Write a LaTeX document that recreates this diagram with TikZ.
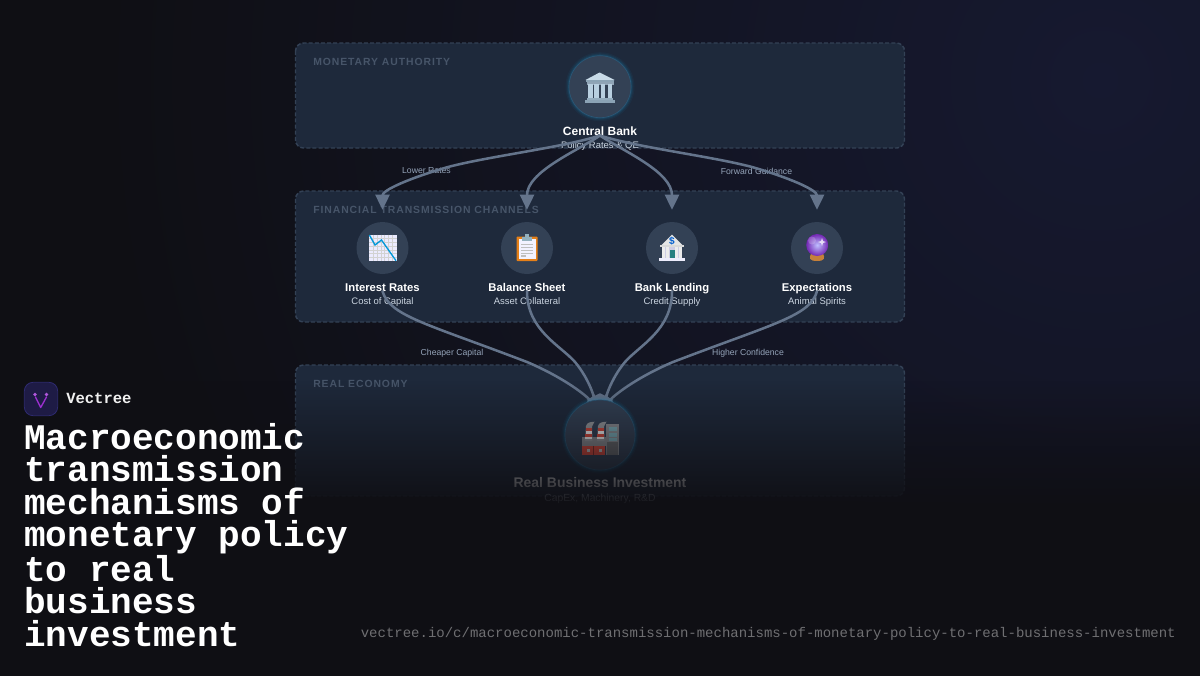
\documentclass[tikz,border=0pt]{standalone}
\usepackage{fontspec}
\setmainfont{Liberation Sans}
\newfontfamily\monof{Liberation Mono}
\newfontfamily\secf[LetterSpace=9]{Liberation Sans}
\usetikzlibrary{arrows.meta,fadings,shapes.geometric}
\definecolor{bgc}{HTML}{0F0F14}
\definecolor{bgglow}{HTML}{161930}
\definecolor{lanec}{HTML}{1E293B}
\definecolor{laned}{HTML}{334155}
\definecolor{circ}{HTML}{334155}
\definecolor{edgec}{HTML}{64748B}
\definecolor{edgel}{HTML}{94A3B8}
\definecolor{secc}{HTML}{475569}
\definecolor{subc}{HTML}{CBD5E1}
\definecolor{glow}{HTML}{0EA5E9}
\definecolor{logofill}{HTML}{1E1B45}
\definecolor{logoline}{HTML}{2E2A70}
\definecolor{logov}{HTML}{9B2FD0}
\definecolor{roofc}{HTML}{C9DBE8}
\definecolor{colc}{HTML}{B8CFE0}
\definecolor{basec}{HTML}{8BA3B5}
\definecolor{facred}{HTML}{E04A3C}
\definecolor{facgray}{HTML}{8E9196}
\definecolor{facwin}{HTML}{7FB4BE}
\tikzfading[name=fadedown, top color=transparent!100, bottom color=transparent!0]
\tikzset{
  x=0.75pt,y=-0.75pt,
  lane/.style={fill=lanec,draw=laned,line width=1.1pt,dash pattern=on 3pt off 1.6pt,rounded corners=6pt},
  seclab/.style={anchor=base west,inner sep=0pt,text=secc,font=\secf\bfseries\fontsize{7.8}{9}\selectfont},
  icon/.style={circle,fill=circ,minimum size=39pt,inner sep=0pt},
  bigicon/.style={circle,fill=circ,minimum size=46.5pt,inner sep=0pt},
  huge/.style={circle,fill=circ,minimum size=52.5pt,inner sep=0pt},
  nm/.style={anchor=base,inner sep=0pt,text=white,text depth=0pt,font=\bfseries\fontsize{8.45}{10}\selectfont},
  sub/.style={anchor=base,inner sep=0pt,text=subc,font=\fontsize{7.1}{9}\selectfont},
  elab/.style={inner sep=0pt,text=edgel,font=\fontsize{6.5}{8}\selectfont},
  conn/.style={draw=edgec,line width=1.9pt,-{Triangle[length=11.25pt,width=10.5pt]},line cap=round},
  connb/.style={conn},
}
\begin{document}
\begin{tikzpicture}
\useasboundingbox (0,0) rectangle (1200,675);
\fill[bgc] (-5,-5) rectangle (1205,680);
\begin{scope}
\clip (0,0) rectangle (1200,675);
\shade[inner color=bgglow,outer color=bgc] (1100,80) circle (1000);
\end{scope}
% lanes
\path[lane] (295.5,43) rectangle (904.5,148);
\path[lane] (295.5,191) rectangle (904.5,322);
\path[lane] (295.5,365) rectangle (904.5,496);
\node[seclab] (s1) at (313,65) {MONETARY AUTHORITY};
\node[seclab] (s2) at (313,213) {FINANCIAL TRANSMISSION CHANNELS};
\node[seclab] (s3) at (313,387) {REAL ECONOMY};
% central bank
\foreach \w/\o in {7/.05,4.5/.07,2.5/.10}{\draw[glow,opacity=\o,line width=\w*0.75pt] (600,86.7) circle (31);}
\node[bigicon] (cb) at (600,86.7) {};
\draw[glow!22!circ,line width=.5pt] (cb) circle (31);
\fill[roofc] (585.5,80) -- (599.5,72.5) -- (614.5,80) -- cycle;
\fill[basec] (586,80) rectangle (614,82);
\fill[colc!70!circ] (586.5,82) rectangle (613.5,84.5);
\foreach \xx in {590.3,596.5,603,610}{\fill[colc] (\xx-2.2,84) rectangle (\xx+2.2,98.5);}
\fill[basec!80!colc] (587,98.3) rectangle (613,100.3);
\fill[basec] (585,100.3) rectangle (615,102.6);
\node[nm,font=\bfseries\fontsize{9}{10}\selectfont] (cbn) at (600,135.3) {Central Bank};
\node[sub] (cbs) at (600,148.4) {Policy Rates \& QE};
% financial nodes
\node[icon] (ir) at (382.5,248) {};
\node[icon] (bs) at (527,248) {};
\node[icon] (bl) at (672,248) {};
\node[icon] (ex) at (817,248) {};
% chart icon
\fill[white!92!blue] (369,234.5) rectangle (396.5,261);
\foreach \i in {1,...,6}{\draw[gray!35,line width=.25pt] (369+\i*3.9,234.5) -- (369+\i*3.9,261); \draw[gray!35,line width=.25pt] (369,234.5+\i*3.8) -- (396.5,234.5+\i*3.8);}
\draw[blue!30!cyan!85!black,line width=1pt] (369.4,235) -- (375,245) -- (381.5,240) -- (396,260.7);
% clipboard icon
\fill[orange!60!brown,rounded corners=.6pt] (516.5,236.5) rectangle (537.5,261);
\fill[white!95!blue] (518.5,238.5) rectangle (535.5,259);
\fill[cyan!30!gray!80!white] (522,236.5) rectangle (532,240.5);
\fill[cyan!30!gray!80!white] (525,234) rectangle (529,237);
\foreach \yy in {244,247,250,253}{\draw[gray!50,line width=.5pt] (521,\yy) -- (533,\yy);}
\draw[gray!50,line width=.9pt] (521,256) -- (526,256);
% bank icon
\fill[gray!20!white] (661,245.5) -- (672,234.7) -- (683,245.5) -- cycle;
\fill[gray!30!white] (660,245) rectangle (684,247);
\fill[gray!70!blue!30!white] (662,247) rectangle (682,257.5);
\foreach \xx in {663.5,667.5,676.5,680.5}{\fill[gray!15!white] (\xx-1.3,247) rectangle (\xx+1.3,257.5);}
\fill[teal!70!gray] (669.5,250) rectangle (674.5,257.5);
\fill[gray!25!blue!8!white] (659,257.5) rectangle (685,261);
\node[inner sep=0pt,text=blue!55!cyan!80!black,font=\bfseries\fontsize{7.5}{8}\selectfont] (dollar) at (672,241.5) {\$};
% crystal ball
\fill[brown!90!orange] (811,253.5) -- (823,253.5) .. controls (825,258) and (825,261) .. (817,261) .. controls (809,261) and (809,258) .. (811,253.5) -- cycle;
\shade[inner color=blue!25!white,outer color=violet!70!blue!85!white] (817.2,245) circle (11);
\fill[white,opacity=.75] (822,238) -- (823,241) -- (826,242) -- (823,243) -- (822,246) -- (821,243) -- (818,242) -- (821,241) -- cycle;
\fill[white,opacity=.2] (812,240.5) circle (4);
% financial text
\node[nm] (irn) at (382.5,291) {Interest Rates};
\node[sub] (irs) at (382.5,304.4) {Cost of Capital};
\node[nm] (bsn) at (527,291) {Balance Sheet};
\node[sub] (bss) at (527,304.4) {Asset Collateral};
\node[nm] (bln) at (672,291) {Bank Lending};
\node[sub] (bls) at (672,304.4) {Credit Supply};
\node[nm] (exn) at (817,291) {Expectations};
\node[sub] (exs) at (817,304.4) {Animal Spirits};
\coordinate (invIn) at (600,410);
\node[elab] (e1) at (426.5,171) {Lower Rates};
\node[elab] (e2) at (756.5,171) {Forward Guidance};
\node[elab] (e3) at (452,353.3) {Cheaper Capital};
\node[elab] (e4) at (748,353.3) {Higher Confidence};
% connectors
\draw[conn,shorten >=9pt] (cbn.south) .. controls (560,148) and (490,156) .. (448,167) .. controls (410,178) and (382.5,190) .. (ir.north);
\draw[conn,shorten >=9pt] (cbn.south) .. controls (575,152) and (527,172) .. (bs.north);
\draw[conn,shorten >=9pt] (cbn.south) .. controls (625,152) and (672,172) .. (bl.north);
\draw[conn,shorten >=9pt] (cbn.south) .. controls (640,148) and (710,156) .. (752,167) .. controls (790,178) and (817,190) .. (ex.north);
\draw[connb] (irn.south) .. controls (390,316) and (425,323) .. (527,362) .. controls (560,376) and (582,392) .. (invIn);
\draw[connb] (bsn.south) .. controls (527,330) and (560,345) .. (575,362) .. controls (590,380) and (595,400) .. (invIn);
\draw[connb] (bln.south) .. controls (672,330) and (640,345) .. (625,362) .. controls (610,380) and (605,400) .. (invIn);
\draw[connb] (exn.south) .. controls (810,316) and (775,323) .. (673,362) .. controls (640,376) and (618,392) .. (invIn);
% investment
\foreach \w/\o in {7/.05,4.5/.07,2.5/.10}{\draw[glow,opacity=\o,line width=\w*0.75pt] (600,435) circle (35);}
\node[huge] (inv) at (600,435) {};
\draw[glow!22!circ,line width=.5pt] (inv) circle (35);
% factory
\fill[facgray] (582,437) rectangle (606,446);
\fill[facred] (582,445.5) rectangle (605,454.5);
\draw[facred!60!black,line width=.4pt] (593.6,445.5) -- (593.6,454.5);
\fill[facgray] (605.5,423.5) rectangle (619,454.5);
\fill[facgray!75!black] (606.5,442) rectangle (618,454.5);
\fill[facwin] (608.5,426.5) rectangle (616.5,431);
\fill[facwin] (608.5,432.5) rectangle (616.5,437);
\fill[facwin] (608.5,438) rectangle (616.5,441);
\foreach \xx in {585,597}{
  \fill[facgray!90!white] (\xx,441) -- (\xx+1,426) .. controls (\xx+2,422) and (\xx+6,422) .. (\xx+9.5,421.7) -- (\xx+7,426.5) -- (\xx+7.5,441) -- cycle;
  \fill[facred] (\xx+.6,428) rectangle (\xx+7.2,431);
  \fill[white] (\xx+.5,431) rectangle (\xx+7.2,434);
  \fill[facred] (\xx+.4,434) rectangle (\xx+7.4,437);
  \fill[white] (\xx+.3,437) rectangle (\xx+7.4,439);
}
\fill[facgray!50!white] (587,449) rectangle (589.5,452);
\fill[facgray!50!white] (599,449) rectangle (601.5,452);
\node[nm,font=\bfseries\fontsize{10.45}{12}\selectfont] (invn) at (600,487) {Real Business Investment};
\node[sub,font=\fontsize{7.75}{9}\selectfont] (invs) at (600,501.5) {CapEx, Machinery, R\&D};
% bottom fade
\fill[bgc,path fading=fadedown] (-2,380) rectangle (1202,510);
\fill[bgc] (-5,509.5) rectangle (1205,680);
% branding
\node[draw=logoline,fill=logofill,rounded corners=6.5pt,minimum size=25pt,inner sep=0pt,line width=.6pt] (logo) at (41,399) {};
\draw[logov,line width=1pt,line cap=round,line join=round] (35.5,397) -- (40.7,407.5) -- (46.5,397);
\foreach \xx in {35,46.5}{\fill[logov!80!white] (\xx,394.5) circle (1.9);}
\node[anchor=base west,inner sep=0pt,text=white!88!gray,font=\monof\bfseries\fontsize{11.65}{14}\selectfont] (brand) at (66,403.3) {Vectree};
\node[anchor=north west,inner sep=0pt,align=left,text=white,font=\monof\bfseries\fontsize{27}{24.3}\selectfont] (title) at (24,423) {Macroeconomic\\transmission\\mechanisms of\\monetary policy\\to real\\business\\investment};
\node[anchor=base east,inner sep=0pt,text=white!40!bgc,font=\monof\fontsize{10.5}{12}\selectfont] (url) at (1176,637) {vectree.io/c/macroeconomic-transmission-mechanisms-of-monetary-policy-to-real-business-investment};
\end{tikzpicture}
\end{document}
